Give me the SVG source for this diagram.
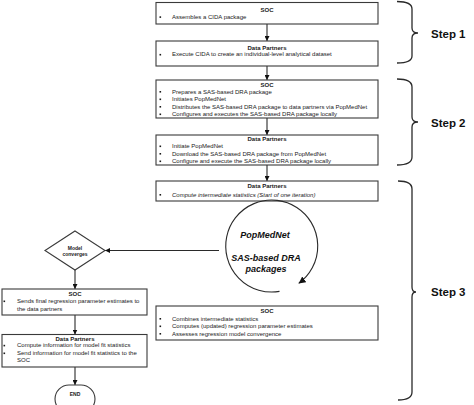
<svg xmlns="http://www.w3.org/2000/svg" width="474" height="405" viewBox="0 0 474 405">
<defs>
<style>
.box{fill:#fff;stroke:#3a3a3a;stroke-width:1.1}
.h{font-family:"Liberation Sans",Arial,sans-serif;font-size:6px;font-weight:bold;fill:#1a1a1a;text-anchor:middle}
.t{font-family:"Liberation Sans",Arial,sans-serif;font-size:6px;fill:#1a1a1a}
.i{font-style:italic}
.b{fill:#1a1a1a}
.conn{fill:none;stroke:#2a2a2a;stroke-width:1.1}
.brace{fill:none;stroke:#2a2a2a;stroke-width:1.3}
.step{font-family:"Liberation Sans",Arial,sans-serif;font-size:11.5px;font-weight:bold;fill:#111}
.big{font-family:"Liberation Sans",Arial,sans-serif;font-size:9px;font-weight:bold;font-style:italic;fill:#111;text-anchor:middle}
.small{font-family:"Liberation Sans",Arial,sans-serif;font-size:5px;font-weight:bold;fill:#1a1a1a;text-anchor:middle}
</style>
<marker id="ah" viewBox="0 0 10 10" refX="10" refY="5" markerWidth="5" markerHeight="5" markerUnits="userSpaceOnUse" orient="auto">
<path d="M0,0 L10,5 L0,10 z" fill="#111"/>
</marker>
<marker id="ah2" viewBox="0 0 10 10" refX="10" refY="5" markerWidth="7" markerHeight="7" markerUnits="userSpaceOnUse" orient="auto">
<path d="M0,0 L10,5 L0,10 z" fill="#111"/>
</marker>
</defs>

<g id="connectors">
<line class="conn" x1="267" y1="24" x2="267" y2="41" marker-end="url(#ah)"/>
<line class="conn" x1="267" y1="66" x2="267" y2="80" marker-end="url(#ah)"/>
<line class="conn" x1="267" y1="118" x2="267" y2="135" marker-end="url(#ah)"/>
<line class="conn" x1="267" y1="165" x2="267" y2="181" marker-end="url(#ah)"/>
<line class="conn" x1="219" y1="250.5" x2="105" y2="250.5" marker-end="url(#ah)"/>
<line class="conn" x1="75" y1="270" x2="75" y2="289" marker-end="url(#ah)"/>
<line class="conn" x1="75" y1="315" x2="75" y2="334.5" marker-end="url(#ah)"/>
<line class="conn" x1="75" y1="367" x2="75" y2="385" marker-end="url(#ah)"/>
</g>

<g id="soc1">
<rect class="box" x="156" y="2.5" width="222" height="21.5"/>
<text class="h" x="267" y="12">SOC</text>
<rect class="b" x="159.5" y="16.3" width="1.6" height="1.6"/>
<text class="t" x="172" y="18.8">Assembles a CIDA package</text>
</g>

<g id="dp1">
<rect class="box" x="156" y="41" width="222" height="25"/>
<text class="h" x="267" y="49.8">Data Partners</text>
<rect class="b" x="159.5" y="53.9" width="1.6" height="1.6"/>
<text class="t" x="172" y="56.4">Execute CIDA to create an individual-level analytical dataset</text>
</g>

<g id="soc2">
<rect class="box" x="156" y="80" width="222" height="38"/>
<text class="h" x="267" y="87">SOC</text>
<rect class="b" x="159.5" y="91" width="1.6" height="1.6"/>
<text class="t" x="172" y="93.5">Prepares a SAS-based DRA package</text>
<rect class="b" x="159.5" y="98.5" width="1.6" height="1.6"/>
<text class="t" x="172" y="101">Initiates PopMedNet</text>
<rect class="b" x="159.5" y="106" width="1.6" height="1.6"/>
<text class="t" x="172" y="108.5">Distributes the SAS-based DRA package to data partners via PopMedNet</text>
<rect class="b" x="159.5" y="113.5" width="1.6" height="1.6"/>
<text class="t" x="172" y="116">Configures and executes the SAS-based DRA package locally</text>
</g>

<g id="dp2">
<rect class="box" x="156" y="135" width="222" height="30"/>
<text class="h" x="267" y="140.8">Data Partners</text>
<rect class="b" x="159.5" y="145.5" width="1.6" height="1.6"/>
<text class="t" x="172" y="148">Initiate PopMedNet</text>
<rect class="b" x="159.5" y="153" width="1.6" height="1.6"/>
<text class="t" x="172" y="155.5">Download the SAS-based DRA package from PopMedNet</text>
<rect class="b" x="159.5" y="160.5" width="1.6" height="1.6"/>
<text class="t" x="172" y="163">Configure and execute the SAS-based DRA package locally</text>
</g>

<g id="dp3">
<rect class="box" x="156" y="181" width="222" height="20"/>
<text class="h" x="267" y="188">Data Partners</text>
<rect class="b" x="159.5" y="194" width="1.6" height="1.6"/>
<text class="t i" x="172" y="196.5">Compute intermediate statistics (Start of one iteration)</text>
</g>

<g id="popmednet">
<path class="conn" d="M 279.5 291.4 A 46 46 0 1 1 298.6 283.4" marker-end="url(#ah2)"/>
<text class="big" x="265" y="238">PopMedNet</text>
<text class="big" x="266" y="260.5">SAS-based DRA</text>
<text class="big" x="266" y="271.5">packages</text>
</g>

<g id="soc3">
<rect class="box" x="156" y="306" width="222" height="34"/>
<text class="h" x="267" y="313">SOC</text>
<rect class="b" x="159.5" y="318" width="1.6" height="1.6"/>
<text class="t" x="172" y="320.5">Combines intermediate statistics</text>
<rect class="b" x="159.5" y="325.5" width="1.6" height="1.6"/>
<text class="t" x="172" y="328">Computes (updated) regression parameter estimates</text>
<rect class="b" x="159.5" y="333" width="1.6" height="1.6"/>
<text class="t" x="172" y="335.5">Assesses regression model convergence</text>
</g>

<g id="decision">
<polygon class="box" points="75,231 105,250.5 75,270 45,250.5"/>
<text class="small" x="75" y="249.5">Model</text>
<text class="small" x="75" y="256.3">converges</text>
</g>

<g id="soc4">
<rect class="box" x="2" y="289" width="145" height="26"/>
<text class="h" x="75" y="296.3">SOC</text>
<rect class="b" x="3.5" y="300.5" width="1.6" height="1.6"/>
<text class="t" x="17" y="303">Sends final regression parameter estimates to</text>
<text class="t" x="17" y="311">the data partners</text>
</g>

<g id="dp4">
<rect class="box" x="2" y="334.5" width="145" height="32.5"/>
<text class="h" x="75" y="340.5">Data Partners</text>
<rect class="b" x="3.5" y="344.8" width="1.6" height="1.6"/>
<text class="t" x="17" y="347.3">Compute information for model fit statistics</text>
<rect class="b" x="3.5" y="352.5" width="1.6" height="1.6"/>
<text class="t" x="17" y="355">Send information for model fit statistics to the</text>
<text class="t" x="17" y="362.3">SOC</text>
</g>

<g id="end">
<rect class="box" x="55" y="385" width="40" height="28" rx="14" ry="14"/>
<text class="small" x="75" y="395.5">END</text>
</g>

<g id="step1">
<path class="brace" d="M397 1.5 Q412 1.5 412 9 L412 28 Q412 33 418 33 Q412 33 412 38 L412 56 Q412 63 397 63"/>
<text class="step" x="431" y="37.5">Step 1</text>
</g>
<g id="step2">
<path class="brace" d="M397 79 Q412 79 412 87 L412 117 Q412 122 418 122 Q412 122 412 127 L412 157 Q412 165 397 165"/>
<text class="step" x="431" y="126.5">Step 2</text>
</g>
<g id="step3">
<path class="brace" d="M398 181 Q412 181 412 189 L412 287 Q412 292 416 292 Q412 292 412 297 L412 392 Q412 400 398 400"/>
<text class="step" x="431" y="296">Step 3</text>
</g>
</svg>
